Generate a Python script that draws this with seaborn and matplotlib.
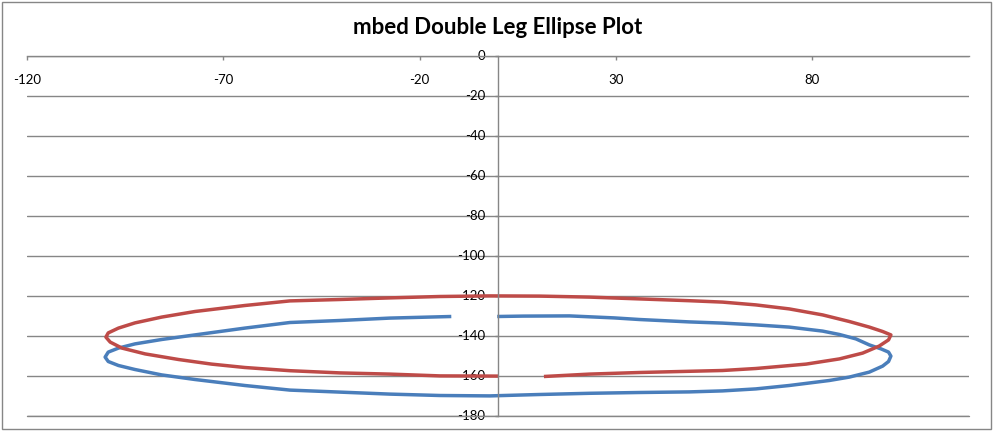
import matplotlib
matplotlib.use("Agg")
import matplotlib.pyplot as plt
from matplotlib.patches import Rectangle
import seaborn as sns
import pandas as pd

# ---- data ----
blue_x = [-0.2, 6.4, 18.2, 29.6, 36, 48.7, 57.2, 65.7, 74.2, 82.7,
          87, 91.2, 94.6, 97.6, 99.5, 100.1, 99.5, 98.0, 94.6, 89.5,
          84.4, 74.2, 65.7, 57.2, 48.7, 36, 23.3, 10.6, -2.1, -14.8,
          -27.6, -40.3, -53, -64.5, -77.2, -85.7, -92.5, -96.7, -99.3, -100.1,
          -99.3, -96.7, -92.5, -85.7, -77.2, -64.5, -53, -40.3, -27.6, -11.9]
blue_y = [-130.5, -130.3, -130.2, -131.2, -132, -133.2, -133.8, -134.7, -135.8, -137.8,
          -139.5, -141.7, -144.7, -146.7, -148.3, -150.3, -153, -155.3, -158.3, -160.8,
          -162.5, -165, -166.7, -167.7, -168.2, -168.5, -168.9, -169.5, -170.2, -170,
          -169.3, -168.3, -167.3, -165, -162, -159.7, -157, -155, -153, -150.8,
          -148.3, -146.3, -144.2, -142, -139.7, -136.3, -133.5, -132.5, -131.3, -130.5]

red_x = [11.7, 23.3, 36, 48.7, 57.2, 65.7, 78.5, 87, 92.9, 97.1,
         99.5, 100.1, 98.0, 94.6, 89.5, 82.7, 74.2, 65.7, 57.2, 48.7,
         36, 23.3, 10.6, -2.1, -14.8, -27.6, -40.3, -53, -64.5, -77.2,
         -85.7, -92.5, -96.7, -99.3, -99.9, -98.8, -95.8, -89.9, -81.4, -73,
         -64.5, -53, -40.3, -27.6, -14.8, 0.2]
red_y = [-160.5, -159.3, -158.5, -157.9, -157.5, -156.5, -154.3, -151.7, -148.8, -145.3,
         -142.2, -139.7, -138, -135.8, -133, -129.7, -126.7, -124.7, -123.3, -122.6,
         -121.7, -120.8, -120.3, -120.2, -120.5, -121.2, -122, -122.7, -125, -128,
         -130.8, -133.7, -136.3, -138.7, -140.8, -143.3, -146.3, -149.2, -152, -154.3,
         -156, -157.6, -158.7, -159.3, -160.2, -160.3]

x_ticks = [-120, -70, -20, 30, 80]
y_ticks = [0, -20, -40, -60, -80, -100, -120, -140, -160, -180]
title = "mbed Double Leg Ellipse Plot"

# ---- style ----
sns.set_theme(style="white")
plt.rcParams['font.family'] = ['Lato', 'DejaVu Sans']

grid_col = "#868686"
blue_col = "#4A7EBB"
red_col = "#BE4B48"

fig = plt.figure(figsize=(9.96, 4.32), dpi=100)
ax = fig.add_axes([27/996, 1 - 415.5/432, (969 - 27)/996, 360/432])

df_b = pd.DataFrame({"x": blue_x, "y": blue_y})
df_r = pd.DataFrame({"x": red_x, "y": red_y})
sns.lineplot(data=df_b, x="x", y="y", sort=False, estimator=None, color=blue_col,
             linewidth=2.5, ax=ax, solid_capstyle="butt", solid_joinstyle="round")
sns.lineplot(data=df_r, x="x", y="y", sort=False, estimator=None, color=red_col,
             linewidth=2.5, ax=ax, solid_capstyle="butt", solid_joinstyle="round")

ax.set_xlim(-120, 120)
ax.set_ylim(-180, 0)
ax.set_xticks(x_ticks)
ax.set_yticks(y_ticks)
ax.set_xticklabels([str(v) for v in x_ticks])
ax.set_yticklabels([str(v) for v in y_ticks])
ax.set_xlabel("")
ax.set_ylabel("")

ax.yaxis.grid(True, color=grid_col, linewidth=1.0)
ax.xaxis.grid(False)
ax.set_axisbelow(True)
# bottom gridline sits on the axes edge; draw it unclipped
ax.axhline(y_ticks[-1], color=grid_col, linewidth=1.0, clip_on=False, zorder=1)

for s in ["bottom", "right"]:
    ax.spines[s].set_visible(False)
ax.spines["top"].set_color(grid_col)
ax.spines["top"].set_linewidth(1.0)
ax.spines["left"].set_position(("data", 0))
ax.spines["left"].set_color(grid_col)
ax.spines["left"].set_linewidth(1.0)

ax.tick_params(axis="x", top=True, bottom=False, labeltop=True, labelbottom=False,
               direction="in", length=3, width=1.0, color=grid_col, pad=-22,
               labelsize=9.5, labelcolor="black")
ax.tick_params(axis="y", left=True, direction="out", length=2, width=1.0, color=grid_col,
               pad=7, labelsize=9.5, labelcolor="black")

fig.text(0.5, 1 - 27/432, title, ha="center", va="center", fontsize=16,
         fontweight="bold", color="black")

fig.patches.append(Rectangle((2/996, 3/432), 989/996, 427/432, transform=fig.transFigure,
                             fill=False, edgecolor=grid_col, linewidth=1.0))

fig.savefig("out.png", dpi=100)
